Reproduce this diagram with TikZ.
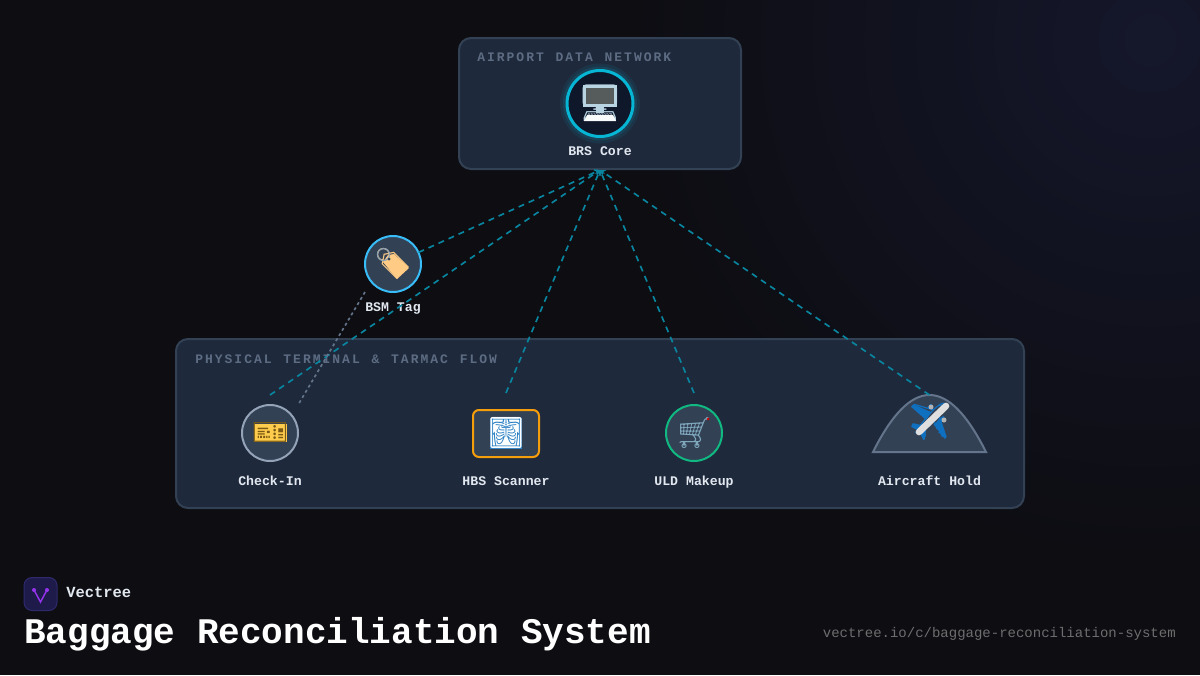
\documentclass[tikz,border=0pt]{standalone}
\usepackage{fontspec}
\setmainfont{Liberation Mono}
\newfontfamily\emojifont{Noto Emoji}
\newfontfamily\spacedfont[LetterSpace=15.4,WordSpace=1.2]{Liberation Mono}
\usetikzlibrary{arrows.meta}
\definecolor{bgdark}{HTML}{0D0D12}
\definecolor{bgglow}{HTML}{15172B}
\definecolor{panelfill}{HTML}{1E293B}
\definecolor{panelline}{HTML}{334155}
\definecolor{grouptext}{HTML}{64748B}
\definecolor{labeltext}{HTML}{E2E8F0}
\definecolor{linkcyan}{HTML}{0A85A0}
\definecolor{coreline}{HTML}{06B6D4}
\definecolor{corefill}{HTML}{0F172A}
\definecolor{screenpale}{HTML}{B8D4E3}
\definecolor{screengray}{HTML}{565C5C}
\definecolor{bsmline}{HTML}{38BDF8}
\definecolor{checkline}{HTML}{94A3B8}
\definecolor{hbsline}{HTML}{F59E0B}
\definecolor{xrayblue}{HTML}{2A80C4}
\definecolor{uldline}{HTML}{10B981}
\definecolor{cartblue}{HTML}{7FA8BD}
\definecolor{tagorange}{HTML}{FFCB85}
\definecolor{ringgray}{HTML}{8FA3B5}
\definecolor{ticketyellow}{HTML}{FFCC4D}
\definecolor{ticketdark}{HTML}{7A5A14}
\definecolor{planeblue}{HTML}{1070C0}
\definecolor{logofill}{HTML}{1E1B4B}
\definecolor{logoline}{HTML}{2E2A6B}
\definecolor{logomark}{HTML}{9333EA}
\tikzset{
  panel/.style={draw=panelline,line width=1.5pt,fill=panelfill,rounded corners=9pt},
  grouplabel/.style={anchor=base west,inner sep=0pt,text=grouptext!90!panelfill,font=\spacedfont\bfseries\fontsize{9.75}{12}\selectfont},
  station/.style={circle,draw,line width=1.5pt,fill=panelline,minimum size=42pt,inner sep=0pt,outer sep=0pt},
  namelabel/.style={inner sep=0pt,anchor=base,text=labeltext,font=\bfseries\fontsize{9.9}{12}\selectfont},
  icon/.style={inner sep=0pt,font=\emojifont\fontsize{23}{23}\selectfont},
  datalink/.style={draw=linkcyan,line width=1.25pt,dash pattern=on 4.5pt off 3.75pt,-{Stealth[length=4pt,width=5pt]}},
  taglink/.style={draw=grouptext,line width=1.25pt,dash pattern=on 2.25pt off 2.25pt}
}
\begin{document}
\begin{tikzpicture}[x=0.75pt,y=-0.75pt]
\useasboundingbox (0,0) rectangle (1200,675);

% Background
\fill[bgdark] (0,0) rectangle (1200,675);
\begin{scope}
\clip (0,0) rectangle (1200,675);
\shade[inner color=bgglow,outer color=bgdark] (1150,40) circle (520);
\end{scope}

% Group panels
\node[panel,minimum width=211.5pt,minimum height=98.25pt,inner sep=0pt] (network) at (600,103.5) {};
\node[panel,minimum width=636pt,minimum height=126.75pt,inner sep=0pt] (terminal) at (600,423.5) {};
\node[grouplabel] (networklabel) at (477,61) {AIRPORT DATA NETWORK};
\node[grouplabel] (terminallabel) at (195,363) {PHYSICAL TERMINAL \& TARMAC FLOW};

% Core node
\fill[coreline,opacity=0.08] (600,103.5) circle (40);
\fill[coreline,opacity=0.12] (600,103.5) circle (37);
\node[station,draw=coreline,fill=corefill,line width=2.25pt,minimum size=49.5pt] (core) at (600,103.5) {};
\node[icon,text=screenpale] (coreicon) at (600,103) {\fontsize{27}{27}\selectfont 🖥};
\fill[screenpale] (583,85) rectangle (617,107);
\fill[screengray] (586,88) rectangle (614,104);
\fill[screenpale] (596,107) rectangle (604,113);
\fill[white!90!screenpale] (587,115) -- (613,115) -- (616,121) -- (584,121) -- cycle;
\node[namelabel] (corelabel) at (600,155) {BRS Core};

% Tag node
\node[station,draw=bsmline] (bsm) at (393,264) {};
\fill[tagorange] (383,262) -- (388,255) -- (394,254) -- (409,268) -- (397,279) -- cycle;
\node[icon,text=tagorange] (bsmicon) at (393,264) {🏷};
\draw[ringgray,line width=0.9pt] (383.5,254.5) circle (6);
\fill[panelline] (389,259) circle (1.5);
\node[namelabel] (bsmlabel) at (393,311) {BSM Tag};

% Terminal nodes
\node[station,draw=checkline] (checkin) at (270,433) {};
\fill[ticketyellow] (254,424) rectangle (287,442);
\node[icon,text=ticketdark] (checkinicon) at (270,433) {\fontsize{22}{22}\selectfont 🎫};
\node[namelabel] (checkinlabel) at (270,485) {Check-In};

\node[rectangle,rounded corners=4.5pt,draw=hbsline,fill=panelline,line width=1.5pt,minimum width=49.5pt,minimum height=35.25pt,inner sep=0pt,outer sep=0pt] (hbs) at (506,433.5) {};
\fill[xrayblue] (490,418) rectangle (522,449);
\node[icon,text=white] (hbsicon) at (506,433) {🩻};
\node[namelabel] (hbslabel) at (506,485) {HBS Scanner};

\node[station,draw=uldline] (uld) at (694,433) {};
\node[icon,text=cartblue] (uldicon) at (694,433) {🛒};
\fill[red!80!black] (708,419) circle (1.5);
\node[namelabel] (uldlabel) at (694,485) {ULD Makeup};

% Aircraft hold
\filldraw[draw=grouptext,fill=panelline,line width=1.5pt] (873,452) .. controls (911,376) and (948,376) .. (986,452) -- cycle;
\coordinate (hold) at (929.5,395);
\node[icon,text=planeblue] (holdicon) at (929,421) {\fontsize{26}{26}\selectfont ✈};
\fill[planeblue] (911,406.7) -- (913.3,404.3) -- (931.7,412.3) -- (926,420) -- cycle;
\fill[planeblue] (945,439) -- (946.7,436.7) -- (940,417.7) -- (934,425) -- cycle;
\fill[planeblue] (911,426.7) -- (912.7,425) -- (923.3,427.7) -- (920,431.7) -- cycle;
\fill[planeblue] (925,439.3) -- (923.3,440) -- (919.3,431.7) -- (926,430) -- cycle;
\fill[gray!60] (931,407) circle (2.5) (944,420) circle (2.5);
\draw[gray!25,line width=5pt,line cap=round] (946,406) -- (919,432);
\node[namelabel] (holdlabel) at (929.5,485) {Aircraft Hold};

% Connections
\draw[datalink] (bsm) -- (network.south);
\draw[datalink] ([yshift=7.5pt]checkin.north) -- (network.south);
\draw[datalink] ([yshift=12.75pt]hbs.north) -- (network.south);
\draw[datalink] ([yshift=9pt]uld.north) -- (network.south);
\draw[datalink] (hold) -- (network.south);
\draw[taglink] (bsm.west |- bsm.south) -- (checkin.east |- checkin.north);

% Footer
\node[rectangle,rounded corners=6pt,draw=logoline,fill=logofill,line width=0.75pt,minimum size=24.75pt,inner sep=0pt] (logo) at (40.5,594) {};
\draw[logomark,line width=1.1pt] (34,590) -- (40.5,602) -- (47,590);
\fill[logomark] (34,590) circle (2) (47,590) circle (2);
\node[inner sep=0pt,anchor=base west,text=labeltext,font=\bfseries\fontsize{11.6}{14}\selectfont] (brand) at (66,597.5) {Vectree};
\node[inner sep=0pt,anchor=base west,text=white,font=\bfseries\fontsize{27}{30}\selectfont] (title) at (24,643.5) {Baggage Reconciliation System};
\node[inner sep=0pt,anchor=base east,text=gray!85!bgdark,font=\fontsize{10.5}{12}\selectfont] (url) at (1176,637) {vectree.io/c/baggage-reconciliation-system};

\end{tikzpicture}
\end{document}
